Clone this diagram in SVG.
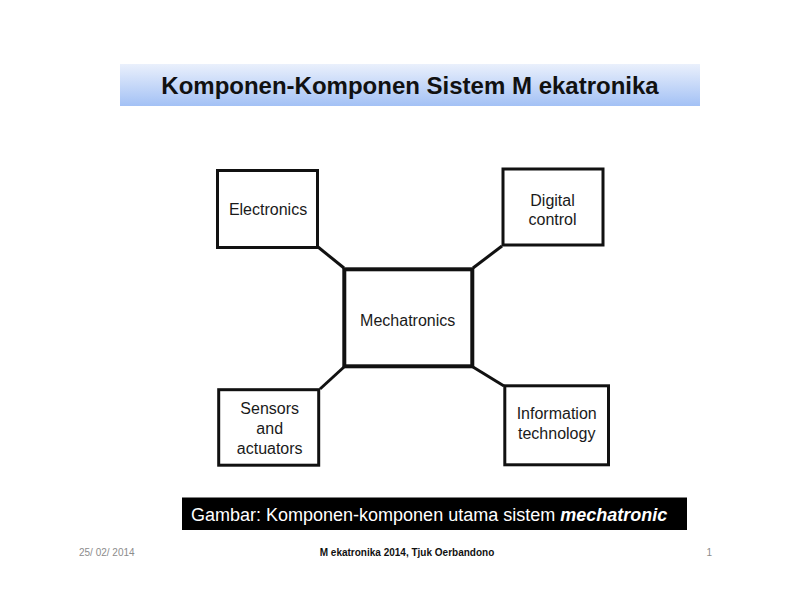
<svg xmlns="http://www.w3.org/2000/svg" width="792" height="612" viewBox="0 0 792 612">
<defs>
<linearGradient id="tg" x1="0" y1="0" x2="0" y2="1">
<stop offset="0" stop-color="#eaf0fc"/>
<stop offset="1" stop-color="#a3c1f5"/>
</linearGradient>
</defs>
<style>
.box{fill:#fff;stroke:#111;stroke-width:3}
.main{fill:#fff;stroke:#111;stroke-width:4}
.lbl{font-family:"Liberation Sans",Arial,sans-serif;font-size:16px;fill:#1a1a1a;text-anchor:middle}
.conn{stroke:#111;stroke-width:3;fill:none}
.foot{font-family:"Liberation Sans",Arial,sans-serif;font-size:10px}
</style>
<rect width="792" height="612" fill="#fff"/>
<g id="title">
<rect x="120" y="64" width="580" height="42" fill="url(#tg)"/>
<text x="410" y="94" font-family="Liberation Sans,Arial,sans-serif" font-size="24" font-weight="bold" text-anchor="middle" fill="#111">Komponen-Komponen Sistem M ekatronika</text>
</g>
<g id="connectors">
<line class="conn" x1="318" y1="247" x2="344" y2="268"/>
<line class="conn" x1="502" y1="246" x2="473" y2="268"/>
<line class="conn" x1="320" y1="389" x2="344" y2="367"/>
<line class="conn" x1="473" y1="367" x2="504" y2="386"/>
</g>
<g id="electronics">
<rect class="box" x="217.5" y="170.5" width="100" height="77"/>
<text class="lbl" x="268" y="215">Electronics</text>
</g>
<g id="digital-control">
<rect class="box" x="503" y="169" width="100" height="76"/>
<text class="lbl" x="552.5" y="206">Digital</text>
<text class="lbl" x="552.5" y="225">control</text>
</g>
<g id="mechatronics">
<rect class="main" x="344.3" y="269.3" width="128" height="97"/>
<text class="lbl" x="407.7" y="326">Mechatronics</text>
</g>
<g id="sensors-actuators">
<rect class="box" x="218.7" y="389.7" width="100" height="75.5"/>
<text class="lbl" x="269.7" y="414">Sensors</text>
<text class="lbl" x="269.7" y="434">and</text>
<text class="lbl" x="269.7" y="454">actuators</text>
</g>
<g id="information-technology">
<rect class="box" x="504.8" y="385.8" width="103.7" height="79"/>
<text class="lbl" x="556.7" y="419">Information</text>
<text class="lbl" x="556.7" y="439">technology</text>
</g>
<g id="caption">
<rect x="182" y="497.5" width="505" height="32.5" fill="#000"/>
<text x="191" y="521" font-family="Liberation Sans,Arial,sans-serif" font-size="18" fill="#fff">Gambar: Komponen-komponen utama sistem <tspan font-weight="bold" font-style="italic">mechatronic</tspan></text>
</g>
<g id="footer">
<text class="foot" x="79" y="556" fill="#8c8c8c">25/ 02/ 2014</text>
<text class="foot" x="407" y="556" font-weight="bold" text-anchor="middle" fill="#111">M ekatronika 2014, Tjuk Oerbandono</text>
<text class="foot" x="712" y="556" text-anchor="end" fill="#8c8c8c">1</text>
</g>
</svg>
